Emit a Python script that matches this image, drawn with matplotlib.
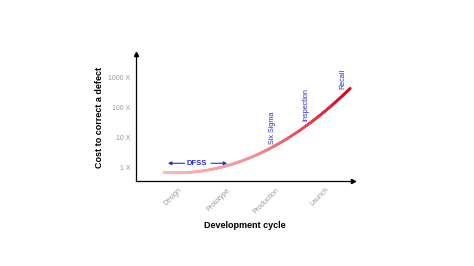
import numpy as np
import matplotlib
matplotlib.use('Agg')
import matplotlib.pyplot as plt
from matplotlib.collections import LineCollection
from matplotlib.colors import LinearSegmentedColormap

plt.rcParams['font.family'] = ['Liberation Sans', 'DejaVu Sans']

# data
stages = ['Design', 'Prototype', 'Production', 'Launch']
curve_x = [-0.39, 0.2, 0.89, 1.63, 2.04, 2.45, 2.86, 3.2, 3.41]
curve_y = [0.68, 0.8, 1.17, 3.16, 7.4, 23.3, 73.6, 215, 430]
ytick_vals = [1, 10, 100, 1000]
ytick_labels = ['1 X', '10 X', '100 X', '1000 X']
markers = ['Six Sigma', 'Inspection', 'Recall']
marker_x = [1.83, 2.51, 3.27]
marker_y = [21, 130, 930]
dfss_span = [-0.31, 0.90]
dfss_level = 1.43

fig = plt.figure(figsize=(4.74, 2.66), dpi=100)
ax = fig.add_axes([0.287, 0.32, 0.458, 0.477])
ax.set_yscale('log')
ax.set_xlim(-0.96, 3.47)
ax.set_ylim(0.37, 6300)

# smooth the read points (cubic fit in log space) and draw with a pink -> red gradient
coef = np.polyfit(curve_x, np.log10(curve_y), 3)
xs = np.linspace(curve_x[0], curve_x[-1], 200)
ys = 10 ** np.polyval(coef, xs)
pts = np.column_stack([xs, ys]).reshape(-1, 1, 2)
segs = np.concatenate([pts[:-1], pts[1:]], axis=1)
cmap = LinearSegmentedColormap.from_list('pr', ['#f8bcc0', '#f0909a', '#e0001a'])
lc = LineCollection(segs, cmap=cmap, linewidth=2.0, capstyle='round')
lc.set_array(np.linspace(0, 1, len(segs)))
ax.add_collection(lc)

for spine in ['top', 'right']:
    ax.spines[spine].set_visible(False)
for spine in ['left', 'bottom']:
    ax.spines[spine].set_linewidth(0.9)
ax.plot(1, 0, '>k', ms=3, transform=ax.transAxes, clip_on=False)
ax.plot(0, 1, '^k', ms=3, transform=ax.transAxes, clip_on=False)

ax.set_yticks(ytick_vals)
ax.set_yticklabels(ytick_labels, fontsize=5, color='#999999')
ax.minorticks_off()
ax.set_xticks(range(len(stages)))
ax.set_xticklabels(stages, fontsize=5, color='#999999', rotation=45,
                   ha='right', va='top')
ax.tick_params(length=0, pad=4)

ax.set_ylabel('Cost to correct a defect', fontsize=6.5, fontweight='bold', labelpad=3)
ax.set_xlabel('Development cycle', fontsize=6.5, fontweight='bold', labelpad=4)

blue = '#2b2bdd'
for name, mx, my in zip(markers, marker_x, marker_y):
    ax.text(mx, my, name, rotation=90, fontsize=5.2, color=blue,
            ha='center', va='center')

# DFSS span
mid = (dfss_span[0] + dfss_span[1]) / 2
ax.text(mid - 0.02, dfss_level, 'DFSS', fontsize=5.5, fontweight='bold', color=blue,
        ha='center', va='center')
ax.annotate('', xy=(dfss_span[0], dfss_level), xytext=(0.03, dfss_level),
            arrowprops=dict(arrowstyle='-|>', color=blue, lw=0.8,
                            mutation_scale=5, shrinkA=0, shrinkB=0))
ax.annotate('', xy=(dfss_span[1], dfss_level), xytext=(0.57, dfss_level),
            arrowprops=dict(arrowstyle='-|>', color=blue, lw=0.8,
                            mutation_scale=5, shrinkA=0, shrinkB=0))

plt.savefig('out.png', dpi=100)
plt.close()
